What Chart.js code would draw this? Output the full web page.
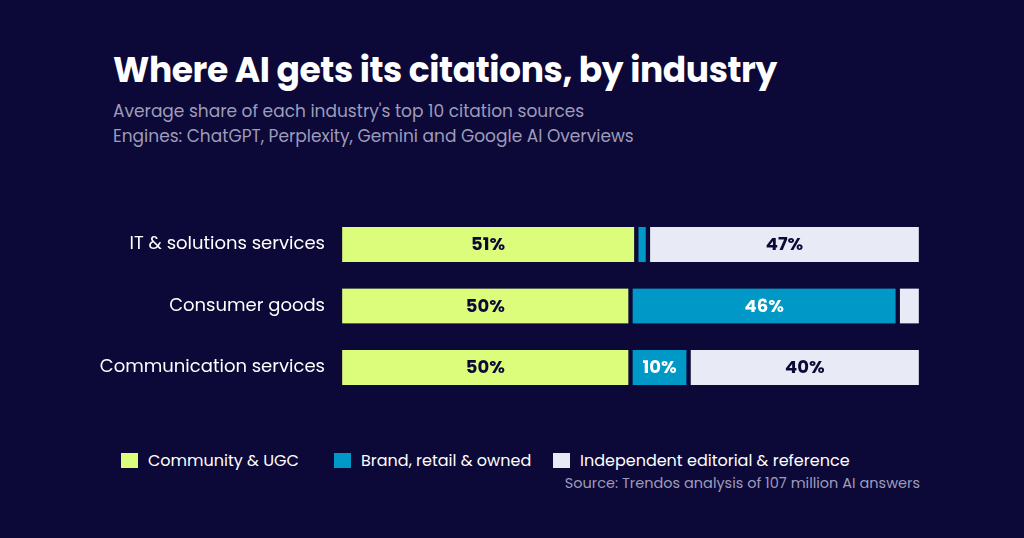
<!DOCTYPE html>
<html><head><meta charset="utf-8">
<script src="https://cdn.jsdelivr.net/npm/chart.js@4"></script>
<style>
body{margin:0;width:1024px;height:538px;background:#0c0838;font-family:Poppins,Inter,"Noto Sans",sans-serif;overflow:hidden;position:relative;color:#fff}
h1{position:absolute;left:113px;top:45px;margin:0;font-size:34.5px;font-weight:700;letter-spacing:-0.4px}
.sub{position:absolute;left:113px;top:99px;color:#9e9cb8;font-size:17px;line-height:25px}
#c{position:absolute;left:0;top:196px}
.legend{position:absolute;top:448px;font-size:16px;color:#fff;display:flex;align-items:center}
.legend i{display:inline-block;width:17px;height:15px;margin-right:10px}
.src{position:absolute;right:104px;top:473px;color:#9e9cb8;font-size:14.5px}
</style></head><body>
<h1>Where AI gets its citations, by industry</h1>
<div class="sub">Average share of each industry's top 10 citation sources<br>Engines: ChatGPT, Perplexity, Gemini and Google AI Overviews</div>
<canvas id="c" width="1024" height="220" style="width:1024px;height:220px"></canvas>
<div class="legend" style="left:121px"><i style="background:#dcfd7c"></i>Community &amp; UGC</div>
<div class="legend" style="left:334px"><i style="background:#0098c6"></i>Brand, retail &amp; owned</div>
<div class="legend" style="left:553px"><i style="background:#e8eaf5"></i>Independent editorial &amp; reference</div>
<div class="src">Source: Trendos analysis of 107 million AI answers</div>
<script>
const industries = ["IT & solutions services", "Consumer goods", "Communication services"];
const community = [51, 50, 50];
const brand = [2, 46, 10];
const independent = [47, 4, 40];

const bg = "#0c0838";
const labelPlugin = {
  id: "inlabels",
  afterDatasetsDraw(chart) {
    const ctx = chart.ctx;
    ctx.save();
    ctx.font = "700 18px Poppins, Inter, sans-serif";
    ctx.textAlign = "center";
    ctx.textBaseline = "middle";
    chart.data.datasets.forEach((ds, i) => {
      chart.getDatasetMeta(i).data.forEach((bar, j) => {
        const v = ds.data[j];
        if (v < 5) return;
        ctx.fillStyle = i === 1 ? "#ffffff" : "#0c0838";
        ctx.fillText(v + "%", (bar.x + bar.base) / 2, bar.y + 1);
      });
    });
    ctx.restore();
  }
};

new Chart(document.getElementById("c"), {
  type: "bar",
  data: {
    labels: industries,
    datasets: [
      { label: "Community & UGC", data: community, backgroundColor: "#dcfd7c" },
      { label: "Brand, retail & owned", data: brand, backgroundColor: "#0098c6" },
      { label: "Independent editorial & reference", data: independent, backgroundColor: "#e8eaf5" }
    ].map(d => Object.assign(d, { borderColor: bg, borderWidth: { left: 2.5, right: 2.5, top: 0, bottom: 0 }, borderSkipped: false, barThickness: 35 }))
  },
  options: {
    indexAxis: "y",
    responsive: false,
    animation: false,
    layout: { padding: { left: 0, right: 103, top: 0, bottom: 0 } },
    plugins: { legend: { display: false }, tooltip: { enabled: false } },
    scales: {
      x: { stacked: true, min: 0, max: 100, display: false },
      y: {
        stacked: true,
        grid: { display: false },
        border: { display: false },
        ticks: { color: "#ffffff", font: { size: 18, family: "Poppins, Inter, sans-serif" }, padding: 7 },
        afterFit(s) { s.width = 340; }
      }
    }
  },
  plugins: [labelPlugin]
});
</script>
</body></html>
